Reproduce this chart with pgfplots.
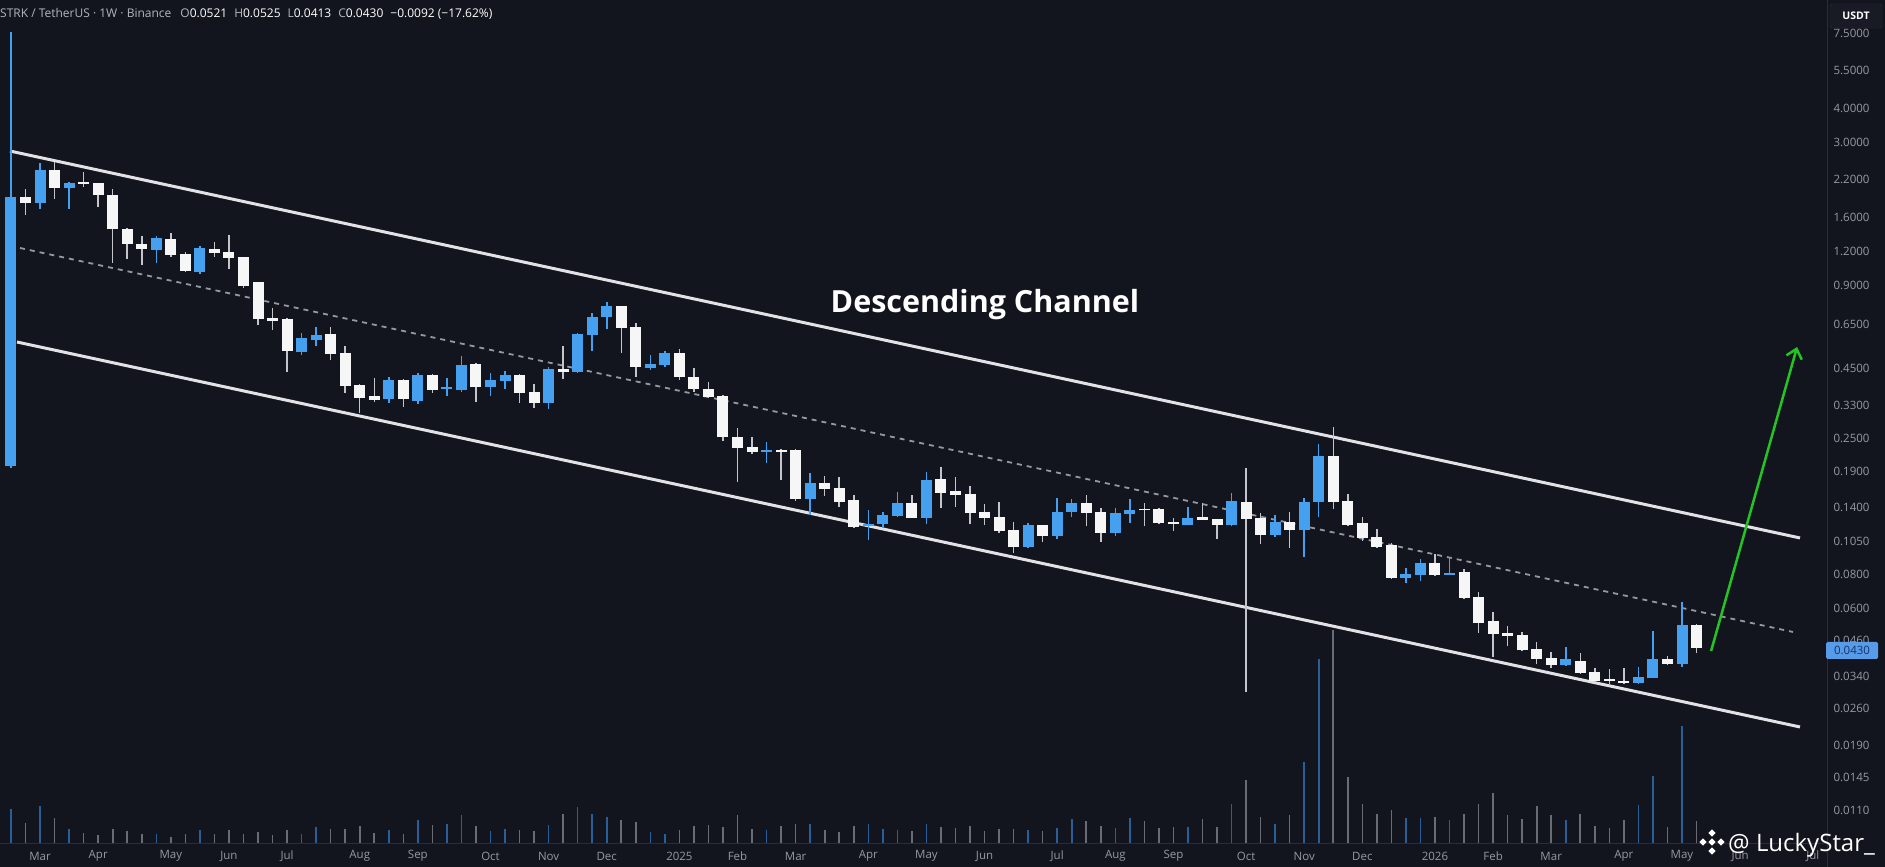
\documentclass[border=0pt]{standalone}
\usepackage{fontspec}
\setmainfont{Open Sans}
\usepackage{pgfplots}
\pgfplotsset{compat=1.18}
\usepackage{pgfplotstable}
\usetikzlibrary{arrows.meta}
\definecolor{bg}{RGB}{18,21,30}
\definecolor{upcol}{RGB}{70,160,240}
\definecolor{downcol}{RGB}{246,246,246}
\definecolor{downwick}{RGB}{195,197,203}
\definecolor{volup}{RGB}{40,95,150}
\definecolor{voldown}{RGB}{105,108,118}
\definecolor{axtext}{RGB}{150,153,162}
\definecolor{chan}{RGB}{226,226,230}
\definecolor{mid}{RGB}{150,152,160}
\definecolor{arrowgreen}{RGB}{36,196,36}
\definecolor{hgrey}{RGB}{178,181,190}
\definecolor{sepcol}{RGB}{42,46,57}
\definecolor{boxbg}{RGB}{24,27,37}
\definecolor{pricebox}{RGB}{86,156,232}
\definecolor{pricetext}{RGB}{22,52,105}

% weekly candles: x = week index (0 = 19 Feb 2024), o h l c in USDT, v = relative volume
\pgfplotstableread{
x o h l c v
0 0.198 7.55 0.195 1.895 34
2 1.80 2.52 1.714 2.377 37
4 2.044 2.149 1.714 2.131 14
10 1.215 1.366 1.089 1.343 9
13 1.011 1.255 0.994 1.235 13
20 0.516 0.6056 0.5033 0.5807 9
21 0.571 0.637 0.543 0.595 16
26 0.3481 0.4187 0.3366 0.4083 13
28 0.3423 0.4330 0.3338 0.4258 23
30 0.380 0.4152 0.3569 0.383 19
31 0.3754 0.4991 0.3692 0.4630 28
33 0.3848 0.433 0.3569 0.4083 12
34 0.405 0.4403 0.3786 0.4258 14
37 0.3366 0.4553 0.320 0.4477 18
39 0.4365 0.605 0.433 0.6006 36
40 0.5955 0.7162 0.5205 0.6926 29
41 0.6926 0.7853 0.627 0.7595 26
44 0.4518 0.5033 0.4440 0.467 11
45 0.463 0.5205 0.4553 0.5118 9
52 0.2231 0.2425 0.2034 0.2268 13
55 0.1504 0.187 0.1315 0.172 19
59 0.120 0.1371 0.1066 0.121 19
60 0.1216 0.1349 0.1179 0.1315 14
61 0.1304 0.1595 0.1293 0.1454 13
63 0.1282 0.1886 0.1216 0.1763 19
70 0.1005 0.1226 0.0997 0.1206 13
72 0.1104 0.1517 0.1075 0.1349 15
73 0.1349 0.1504 0.1293 0.1454 24
76 0.1131 0.1393 0.1104 0.1337 15
77 0.1327 0.1504 0.1235 0.1371 25
81 0.1206 0.1405 0.1206 0.1282 16
84 0.1206 0.1581 0.1196 0.1479 39
87 0.1113 0.1315 0.1095 0.1245 19
89 0.116 0.1517 0.0925 0.1466 81
90 0.1466 0.2385 0.1293 0.2157 184
96 0.0775 0.0843 0.0743 0.0802 25
97 0.0796 0.0909 0.0755 0.0879 25
99 0.0796 0.0925 0.0796 0.0809 23
107 0.0373 0.0434 0.037 0.0393 23
112 0.0322 0.0369 0.0319 0.0339 38
113 0.0334 0.0497 0.0334 0.0393 67
115 0.0376 0.0634 0.0369 0.0521 117
}\uptab

\pgfplotstableread{
x o h l c v
1 1.895 2.027 1.63 1.80 20
3 2.377 2.542 1.864 2.044 25
5 2.14 2.337 2.06 2.12 10
6 2.131 2.14 1.745 1.927 8
7 1.927 2.027 1.089 1.449 14
8 1.449 1.46 1.127 1.278 12
9 1.278 1.366 1.071 1.225 9
11 1.332 1.401 1.147 1.165 6
12 1.175 1.195 1.011 1.019 9
14 1.225 1.299 1.147 1.185 9
15 1.195 1.378 1.035 1.136 13
16 1.147 1.15 0.883 0.898 9
17 0.926 0.93 0.6475 0.681 11
18 0.687 0.747 0.621 0.670 8
19 0.681 0.685 0.4365 0.5205 13
22 0.6006 0.637 0.4826 0.5076 14
23 0.5118 0.5428 0.3661 0.3881 14
24 0.3931 0.395 0.3096 0.3510 17
25 0.3569 0.4152 0.3395 0.3452 10
27 0.4083 0.41 0.3255 0.3481 9
29 0.4258 0.428 0.366 0.3754 18
32 0.467 0.469 0.3395 0.3848 17
35 0.4258 0.428 0.3366 0.366 13
36 0.3692 0.3964 0.3228 0.3366 12
38 0.4477 0.5428 0.4117 0.4365 29
42 0.7595 0.762 0.5118 0.632 23
43 0.637 0.659 0.4187 0.4553 21
46 0.5118 0.5293 0.4083 0.4187 13
47 0.4187 0.4515 0.3692 0.3786 17
48 0.3786 0.4014 0.352 0.354 18
49 0.3569 0.36 0.2456 0.2529 16
50 0.2529 0.2728 0.1734 0.2306 28
51 0.2326 0.2529 0.2194 0.2231 14
53 0.2268 0.228 0.1763 0.2231 17
54 0.2268 0.228 0.1479 0.1504 19
56 0.172 0.1824 0.1542 0.1635 13
57 0.1649 0.1809 0.1405 0.1466 11
58 0.1491 0.1555 0.1179 0.1189 17
62 0.1454 0.1555 0.128 0.1282 12
64 0.1778 0.1967 0.1393 0.1581 16
65 0.1608 0.1809 0.1405 0.1555 15
66 0.1568 0.1677 0.1216 0.1337 17
67 0.1349 0.1441 0.1206 0.1282 12
68 0.1293 0.1466 0.1131 0.115 14
69 0.116 0.1245 0.0956 0.1005 14
71 0.1206 0.1210 0.1050 0.1104 12
74 0.1454 0.1555 0.1196 0.1337 22
75 0.1349 0.1393 0.1050 0.1131 17
78 0.1371 0.1454 0.1196 0.1366 22
79 0.1382 0.1393 0.1216 0.1235 15
80 0.1245 0.1282 0.115 0.1216 16
82 0.1293 0.1454 0.126 0.126 24
83 0.1271 0.1275 0.1075 0.1206 16
85 0.1466 0.195 0.02978 0.1271 63
86 0.1282 0.1337 0.1032 0.1113 26
88 0.1245 0.1349 0.0997 0.1160 28
91 0.2157 0.275 0.1381 0.1466 213
92 0.1479 0.1568 0.12 0.1206 66
93 0.1226 0.1293 0.1059 0.1086 39
94 0.1095 0.117 0.1 0.1005 29
95 0.1019 0.1041 0.0769 0.0775 33
98 0.0879 0.0948 0.079 0.0796 26
100 0.0816 0.0837 0.065 0.0655 29
101 0.066 0.0688 0.0489 0.0531 39
102 0.0540 0.0582 0.0400 0.0485 50
103 0.0489 0.0518 0.0437 0.0477 28
104 0.0481 0.0493 0.0421 0.04235 24
105 0.0427 0.0455 0.0376 0.0393 37
106 0.0396 0.0416 0.0363 0.0373 28
108 0.0386 0.0413 0.0347 0.0349 29
109 0.0352 0.0366 0.0325 0.0327 17
110 0.0330 0.0360 0.0319 0.0327 15
111 0.0327 0.0363 0.0319 0.0322 23
114 0.0393 0.0403 0.0373 0.0376 16
116 0.0521 0.0525 0.0413 0.0430 22
}\downtab

% channel lines (price at two ends)
\pgfplotstableread{
x p
-0.07 2.787
123.12 0.1085
}\upperline
\pgfplotstableread{
x p
0.41 0.5615
123.12 0.02222
}\lowerline
\pgfplotstableread{
x p
0.62 1.2355
122.64 0.0493
}\midline
\pgfplotstableread{
x p
117.0 0.0420
122.92 0.5382
}\arrowline

\begin{document}
\begin{tikzpicture}
\fill[bg] (0bp,0bp) rectangle (1885bp,867bp);
\useasboundingbox (0bp,0bp) rectangle (1885bp,867bp);
\draw[sepcol, line width=1bp] (1827.5bp,0bp) -- (1827.5bp,867bp);
\draw[sepcol, line width=1bp] (0bp,23.5bp) -- (1827bp,23.5bp);

% volume
\begin{axis}[at={(0bp,24bp)}, anchor=south west, scale only axis,
  width=1827bp, height=843bp, xmin=-0.757, xmax=124.98, ymin=0, ymax=843,
  hide axis]
\addplot[ycomb, draw=volup, line width=1.6bp, mark=none] table[x=x, y=v] {\uptab};
\addplot[ycomb, draw=voldown, line width=1.6bp, mark=none] table[x=x, y=v] {\downtab};
\end{axis}

% price (natural log of price on a linear axis)
\begin{axis}[at={(0bp,24bp)}, anchor=south west, scale only axis,
  width=1827bp, height=843bp, xmin=-0.757, xmax=124.98,
  ymin=-4.78001, ymax=2.29183,
  axis line style={draw=none}, tick style={draw=none}, major tick length=0pt,
  ytick={2.014903,1.704748,1.386294,1.098612,0.788457,0.470004,0.182322,-0.105361,-0.430783,-0.798508,-1.108663,-1.386294,-1.660731,-1.966113,-2.253795,-2.525729,-2.813411,-3.079114,-3.381395,-3.649659,-3.963316,-4.233607,-4.509860},
  yticklabels={7.5000,5.5000,4.0000,3.0000,2.2000,1.6000,1.2000,0.9000,0.6500,0.4500,0.3300,0.2500,0.1900,0.1400,0.1050,0.0800,0.0600,0.0460,0.0340,0.0260,0.0190,0.0145,0.0110},
  yticklabel pos=right,
  yticklabel style={anchor=east, xshift=46bp, font=\fontsize{11.5bp}{13bp}\selectfont, text=axtext},
  xtick={2,6,11,15,19,24,28,33,37,41,46,50,54,59,63,67,72,76,80,85,89,93,98,102,106,111,115,119,124},
  xticklabels={Mar,Apr,May,Jun,Jul,Aug,Sep,Oct,Nov,Dec,2025,Feb,Mar,Apr,May,Jun,Jul,Aug,Sep,Oct,Nov,Dec,2026,Feb,Mar,Apr,May,Jun,Jul},
  xticklabel style={anchor=center, yshift=-13bp, font=\fontsize{11.5bp}{13bp}\selectfont, text=axtext},
  ]
% channel
\addplot[chan, line width=3bp, mark=none] table[x=x, y expr={ln(\thisrow{p})}] {\upperline};
\addplot[chan, line width=3bp, mark=none] table[x=x, y expr={ln(\thisrow{p})}] {\lowerline};
\addplot[mid, line width=1.8bp, dash pattern=on 5bp off 5bp, mark=none] table[x=x, y expr={ln(\thisrow{p})}] {\midline};
% wicks
\addplot[draw=none, mark=none, error bars/.cd, y dir=plus, y explicit, error mark=none,
  error bar style={draw=upcol, line width=1.5bp}]
  table[x=x, y expr={ln(\thisrow{l})}, y error plus expr={ln(\thisrow{h})-ln(\thisrow{l})}] {\uptab};
\addplot[draw=none, mark=none, error bars/.cd, y dir=plus, y explicit, error mark=none,
  error bar style={draw=downwick, line width=1.5bp}]
  table[x=x, y expr={ln(\thisrow{l})}, y error plus expr={ln(\thisrow{h})-ln(\thisrow{l})}] {\downtab};
% bodies
\addplot[draw=none, mark=none, error bars/.cd, y dir=plus, y explicit, error mark=none,
  error bar style={draw=upcol, line width=11bp}]
  table[x=x, y expr={ln(\thisrow{o})}, y error plus expr={max(ln(\thisrow{c})-ln(\thisrow{o}),0.015)}] {\uptab};
\addplot[draw=none, mark=none, error bars/.cd, y dir=plus, y explicit, error mark=none,
  error bar style={draw=downcol, line width=11bp}]
  table[x=x, y expr={ln(\thisrow{c})}, y error plus expr={max(ln(\thisrow{o})-ln(\thisrow{c}),0.015)}] {\downtab};
% projection arrow
\addplot[arrowgreen, line width=2.5bp, mark=none, -{Straight Barb[length=9bp,width=16bp,line width=2.5bp]}]
  table[x=x, y expr={ln(\thisrow{p})}] {\arrowline};
\end{axis}

% header
\node[anchor=base west, inner sep=0pt, font=\fontsize{12bp}{14bp}\selectfont] at (0bp,849bp)
 {\textcolor{hgrey}{STRK / TetherUS · 1W · Binance}\hspace{9bp}%
  \textcolor{hgrey}{O}\textcolor{white}{0.0521}\hspace{7bp}%
  \textcolor{hgrey}{H}\textcolor{white}{0.0525}\hspace{7bp}%
  \textcolor{hgrey}{L}\textcolor{white}{0.0413}\hspace{7bp}%
  \textcolor{hgrey}{C}\textcolor{white}{0.0430}\hspace{7bp}%
  \textcolor{white}{−0.0092 (−17.62\%)}};
% annotation
\node[anchor=base, inner sep=0pt, text=white, font=\fontsize{30.5bp}{34bp}\selectfont\bfseries] at (985bp,554bp) {Descending Channel};
% currency box
\node[fill=boxbg, draw=sepcol, rounded corners=2bp, minimum width=52bp, minimum height=24bp, inner sep=0pt,
  text=white, font=\fontsize{10.5bp}{12bp}\selectfont\bfseries] at (1856bp,851bp) {USDT};
% last price box
\node[fill=pricebox, rounded corners=1.5bp, minimum width=52bp, minimum height=17bp, inner sep=0pt,
  text=pricetext, font=\fontsize{11.5bp}{13bp}\selectfont] at (1852bp,216.5bp) {0.0430};
% watermark
\begin{scope}[shift={(1712bp,25bp)}]
\foreach \dx/\dy in {0/0,9/0,-9/0,0/9,0/-9}{
  \fill[white, rotate around={45:(\dx bp,\dy bp)}] (\dx bp-2.6bp,\dy bp-2.6bp) rectangle (\dx bp+2.6bp,\dy bp+2.6bp);}
\end{scope}
\node[anchor=base west, inner sep=0pt, text=white, font=\fontsize{24bp}{28bp}\selectfont] at (1728bp,16bp) {@ LuckyStar\_};
\end{tikzpicture}
\end{document}
